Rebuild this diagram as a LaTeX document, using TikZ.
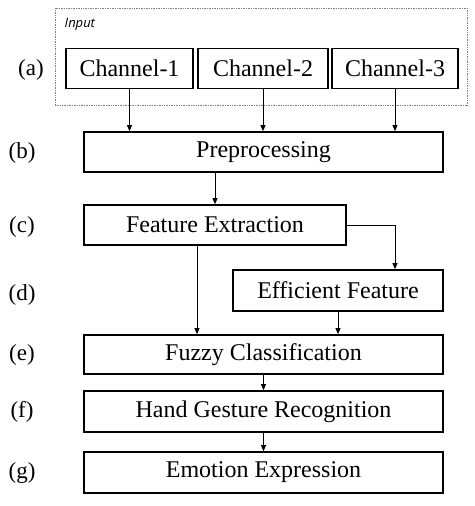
\documentclass[tikz,border=0pt]{standalone}
\usepackage{fontspec}
\setmainfont{Liberation Serif}
\newfontfamily\inputfont{Open Sans}
\usetikzlibrary{arrows.meta,positioning}

\tikzset{
  block/.style={draw,line width=1.7pt,inner sep=0pt,minimum height=40pt,
    font=\fontsize{24}{28}\selectfont},
  step label/.style={font=\fontsize{23}{27}\selectfont},
}

\begin{document}
\begin{tikzpicture}[x=1pt,y=-1pt,->,>={Triangle[length=6pt,width=5pt]},line width=0.8pt]
  \useasboundingbox (0,0) rectangle (474,506);

  % input channels
  \node[draw=gray,densely dotted,line width=0.7pt,minimum width=412pt,minimum height=97pt] (inbox) at (261,56.5) {};
  \node[anchor=west,font=\inputfont\itshape\fontsize{13}{15}\selectfont] (intext) at (61,24) {Input};
  \node[block,minimum width=127pt] (ch1) at (129.5,68.5) {Channel-1};
  \node[block,minimum width=130pt] (ch2) at (263,68.5) {Channel-2};
  \node[block,minimum width=126pt] (ch3) at (395,68.5) {Channel-3};

  % processing chain
  \node[block,minimum width=359pt] (pre) at (263.5,152) {Preprocessing};
  \node[block,minimum width=262pt] (fe) at (215,225) {Feature Extraction};
  \node[block,minimum width=210pt,minimum height=41pt] (ef) at (338,290.5) {Efficient Feature};
  \node[block,minimum width=359pt,minimum height=39pt] (fuz) at (263.5,354.5) {Fuzzy Classification};
  \node[block,minimum width=359pt,minimum height=41pt] (hgr) at (263.5,411.5) {Hand Gesture Recognition};
  \node[block,minimum width=359pt,minimum height=41pt] (emo) at (263.5,472.5) {Emotion Expression};

  % step labels
  \node[step label] (la) at (31,70) {(a)};
  \node[step label] (lb) at (22,153) {(b)};
  \node[step label] (lc) at (22,227) {(c)};
  \node[step label] (ld) at (22,295) {(d)};
  \node[step label] (le) at (22,355) {(e)};
  \node[step label] (lf) at (22,412) {(f)};
  \node[step label] (lg) at (22,473) {(g)};

  \coordinate (fedown) at ([xshift=-18pt]fe.south);

  \draw (ch1.south) -- (ch1.south |- pre.north);
  \draw (ch2.south) -- (ch2.south |- pre.north);
  \draw (ch3.south) -- (ch3.south |- pre.north);
  \draw (pre.south -| fe.north) -- (fe.north);
  \draw (fe.east) -| (ch3.south |- ef.north);
  \draw (fedown) -- (fedown |- fuz.north);
  \draw (ef.south) -- (ef.south |- fuz.north);
  \draw (fuz.south) -- (hgr.north);
  \draw (hgr.south) -- (emo.north);
\end{tikzpicture}
\end{document}
